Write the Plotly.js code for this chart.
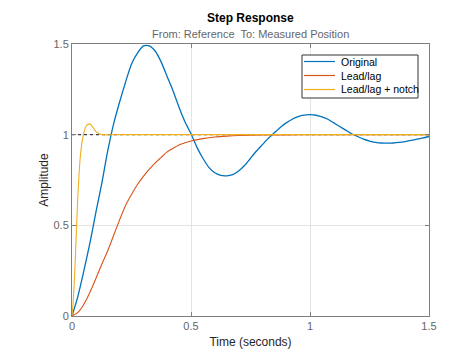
<!DOCTYPE html>
<html>
<head>
<meta charset="utf-8">
<script src="https://cdn.plot.ly/plotly-3.0.1.min.js"></script>
<style>html,body{margin:0;padding:0;background:#fff;}#chart{width:474px;height:355px;}</style>
</head>
<body>
<div id="chart"></div>
<script>
// Original (blue)
const tOriginal = [0,0.025,0.05,0.075,0.1,0.125,0.15,0.175,0.2,0.225,0.25,0.275,0.3,0.325,0.35,0.375,0.4,0.425,0.45,0.475,0.5,0.525,0.55,0.575,0.6,0.625,0.65,0.675,0.7,0.725,0.75,0.775,0.8,0.825,0.85,0.875,0.9,0.925,0.95,0.975,1.0,1.025,1.05,1.075,1.1,1.125,1.15,1.175,1.2,1.225,1.25,1.275,1.3,1.325,1.35,1.375,1.4,1.425,1.45,1.475,1.5];
const yOriginal = [0,0.11,0.25,0.40,0.57,0.73,0.91,1.06,1.18,1.29,1.39,1.45,1.49,1.49,1.46,1.40,1.32,1.24,1.15,1.07,1.005,0.93,0.87,0.82,0.79,0.775,0.773,0.78,0.80,0.83,0.87,0.91,0.945,0.98,1.01,1.04,1.065,1.085,1.10,1.108,1.11,1.107,1.098,1.085,1.065,1.045,1.025,1.005,0.99,0.975,0.965,0.958,0.954,0.953,0.954,0.957,0.962,0.968,0.975,0.982,0.99];
// Lead/lag (orange)
const tLeadLag = [0,0.025,0.05,0.075,0.1,0.125,0.15,0.175,0.2,0.225,0.25,0.275,0.3,0.325,0.35,0.375,0.4,0.425,0.45,0.475,0.5,0.55,0.6,0.65,0.7,0.8,0.9,1.0,1.1,1.2,1.3,1.4,1.5];
const yLeadLag = [0,0.02,0.065,0.13,0.205,0.285,0.36,0.445,0.53,0.61,0.67,0.725,0.77,0.81,0.845,0.875,0.905,0.925,0.943,0.955,0.965,0.978,0.987,0.992,0.995,0.998,0.999,1.0,1.0,1.0,1.0,1.0,1.0];
// Lead/lag + notch (yellow)
const tNotch = [0,0.005,0.01,0.015,0.02,0.025,0.03,0.035,0.04,0.045,0.05,0.055,0.06,0.065,0.07,0.075,0.08,0.085,0.09,0.095,0.1,0.11,0.12,0.13,0.14,0.2,0.4,0.6,0.8,1.0,1.2,1.4,1.5];
const yNotch = [0,0.08,0.2,0.35,0.52,0.67,0.79,0.88,0.94,0.98,1.01,1.035,1.048,1.055,1.058,1.058,1.054,1.046,1.036,1.026,1.018,1.008,1.002,1.0,0.999,1.0,1.0,1.0,1.0,1.0,1.0,1.0,1.0];
// steady-state reference line
const tSteady = [0,1.5];
const ySteady = [1,1];

const seriesNames = ['Original','Lead/lag','Lead/lag + notch'];
const seriesColors = ['#0072BD','#D95319','#EDB120'];
const tickVals = [0,0.5,1,1.5];
const tickText = ['0','0.5','1','1.5'];

const W = 474, H = 355, M = {l:72,r:45,t:44,b:39};
const pw = W - M.l - M.r, ph = H - M.t - M.b;
const px = x => (x - M.l) / pw;
const py = y => 1 - (y - M.t) / ph;

const traces = [
  {x:tSteady,y:ySteady,mode:'lines',line:{color:'#404040',width:1.2,dash:'dot'},showlegend:false,hoverinfo:'skip'},
  {x:tOriginal,y:yOriginal,name:seriesNames[0],mode:'lines',line:{color:seriesColors[0],width:1.3,shape:'spline',smoothing:0.6}},
  {x:tLeadLag,y:yLeadLag,name:seriesNames[1],mode:'lines',line:{color:seriesColors[1],width:1.1,shape:'spline',smoothing:0.6}},
  {x:tNotch,y:yNotch,name:seriesNames[2],mode:'lines',line:{color:seriesColors[2],width:1.1,shape:'spline',smoothing:0.6}}
];

const axisCommon = {
  showline:true, linecolor:'#7f7f7f', linewidth:1, mirror:'ticks',
  ticks:'inside', ticklen:4, tickcolor:'#7f7f7f',
  showgrid:true, gridcolor:'#e3e3e3', gridwidth:1, zeroline:false,
  tickfont:{family:'Liberation Sans, Arial, sans-serif',size:11,color:'#666666'},
  tickvals:tickVals, ticktext:tickText
};

// manual legend (box, line samples, labels)
const legBox = {x0:302, x1:418, y0:55, y1:98};
const rowY = [61.5, 75.5, 89.5];
const shapes = [
  {type:'rect',xref:'paper',yref:'paper',x0:px(legBox.x0),x1:px(legBox.x1),y0:py(legBox.y1),y1:py(legBox.y0),
    line:{color:'#333333',width:1},fillcolor:'#ffffff',layer:'above'}
];
const annotations = [
  {text:'<b>Step Response</b>',xref:'paper',yref:'paper',x:0.5,y:1,yshift:26,showarrow:false,
    xanchor:'center',yanchor:'middle',font:{size:12,color:'#000000'}},
  {text:'From: Reference  To: Measured Position',xref:'paper',yref:'paper',x:0.5,y:1,yshift:10,showarrow:false,
    xanchor:'center',yanchor:'middle',font:{size:11,color:'#666666'}}
];
seriesNames.forEach((n,i) => {
  shapes.push({type:'line',xref:'paper',yref:'paper',x0:px(304),x1:px(335),y0:py(rowY[i]),y1:py(rowY[i]),
    line:{color:seriesColors[i],width:1.2},layer:'above'});
  annotations.push({text:n,xref:'paper',yref:'paper',x:px(339),y:py(rowY[i]),xanchor:'left',yanchor:'middle',
    showarrow:false,font:{family:'Liberation Sans, Arial, sans-serif',size:10.5,color:'#000000'}});
});

const layout = {
  width:W, height:H,
  margin:M,
  paper_bgcolor:'#ffffff', plot_bgcolor:'#ffffff',
  font:{family:'Liberation Sans, Arial, sans-serif'},
  xaxis:Object.assign({}, axisCommon, {range:[0,1.5],
    title:{text:'Time (seconds)',font:{size:12,color:'#262626'},standoff:6}}),
  yaxis:Object.assign({}, axisCommon, {range:[0,1.5],
    title:{text:'Amplitude',font:{size:12,color:'#262626'},standoff:2}}),
  showlegend:false,
  shapes:shapes,
  annotations:annotations
};

Plotly.newPlot('chart', traces, layout, {staticPlot:true,displayModeBar:false});
</script>
</body>
</html>
